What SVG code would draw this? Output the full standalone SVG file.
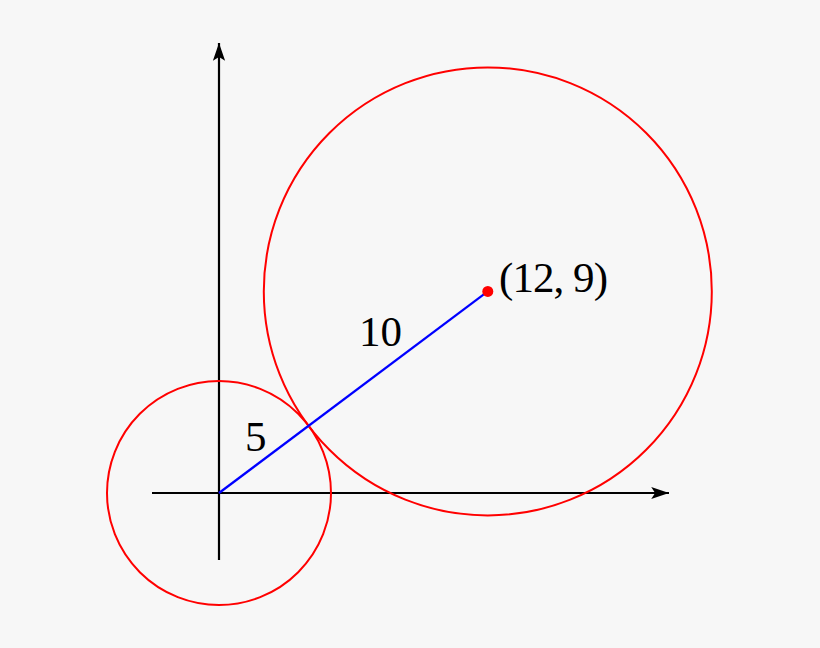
<svg xmlns="http://www.w3.org/2000/svg" width="820" height="648" viewBox="0 0 820 648">
<style>
.axis{stroke:#000;stroke-width:2.2;fill:none}
.circ{stroke:#ff0000;stroke-width:2;fill:none}
.lbl{font-family:"Liberation Serif","DejaVu Serif",serif;font-size:43px;fill:#000}
</style>
<defs>
<marker id="ah" markerUnits="userSpaceOnUse" markerWidth="20" markerHeight="14" viewBox="-17 -6 18 12" refX="0" refY="0" orient="auto">
<path d="M0,0 L-16,-5.5 L-12.5,0 L-16,5.5 Z" fill="#000"/>
</marker>
</defs>
<rect width="820" height="648" fill="#f7f7f7"/>
<g id="axes">
<line id="x-axis" class="axis" x1="152" y1="493" x2="669" y2="493" marker-end="url(#ah)"/>
<line id="y-axis" class="axis" x1="219" y1="560" x2="219" y2="43" marker-end="url(#ah)"/>
</g>
<g id="circle-small"><circle class="circ" cx="219" cy="493" r="112"/></g>
<g id="circle-large"><circle class="circ" cx="487.8" cy="291.4" r="224"/></g>
<g id="connectors">
<line x1="219" y1="493" x2="487.8" y2="291.4" stroke="#0000ff" stroke-width="2.2"/>
</g>
<g id="center-point">
<circle cx="487.8" cy="291.4" r="5.5" fill="#ff0000"/>
<text class="lbl" x="499" y="292" textLength="109" lengthAdjust="spacing">(12, 9)</text>
</g>
<g id="labels">
<text class="lbl" x="359" y="346">10</text>
<text class="lbl" x="245" y="451">5</text>
</g>
</svg>
